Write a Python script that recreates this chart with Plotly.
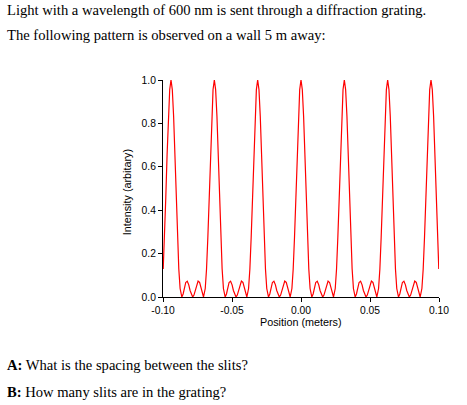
import plotly.graph_objects as go

# principal maxima positions on the wall (m)
peak_centers = [-0.0942, -0.0628, -0.0314, 0.0, 0.0314, 0.0628, 0.0942]

# one half of the repeating profile: offset from a peak (m) and intensity
half_offset = [0.0, 0.00094, 0.00188, 0.00283, 0.00377, 0.00471, 0.00565, 0.00659,
               0.00785, 0.00879, 0.00973, 0.01068, 0.01178, 0.01287, 0.01382, 0.01476, 0.0157]
half_intensity = [1.0, 0.956, 0.834, 0.658, 0.460, 0.274, 0.129, 0.039,
                  0.0, 0.014, 0.043, 0.067, 0.073, 0.056, 0.030, 0.009, 0.0]

x_ticks = [-0.10, -0.05, 0.0, 0.05, 0.10]
x_labels = ['-0.10', '-0.05', '0.00', '0.05', '0.10']
y_ticks = [0.0, 0.2, 0.4, 0.6, 0.8, 1.0]
y_labels = ['0.0', '0.2', '0.4', '0.6', '0.8', '1.0']

# full period = mirrored half profile
offsets = [-d for d in half_offset[:0:-1]] + half_offset
values = half_intensity[:0:-1] + half_intensity

xs, ys = [], []
for c in peak_centers:
    for d, v in zip(offsets, values):
        x = c + d
        if -0.1 <= x <= 0.1 and (not xs or x > xs[-1]):
            xs.append(x)
            ys.append(v)

fig = go.Figure()
fig.add_trace(go.Scatter(x=xs, y=ys, mode='lines', line=dict(color='#ff0000', width=1.2),
                         showlegend=False, hoverinfo='skip'))

tick_font = dict(family='Liberation Sans, Arial, sans-serif', size=10.3, color='black')
title_font = dict(family='Liberation Sans, Arial, sans-serif', size=10.8, color='black')
fig.update_xaxes(range=[-0.1, 0.1], tickvals=x_ticks, ticktext=x_labels,
                 showline=True, linecolor='black', linewidth=1, ticks='outside',
                 ticklen=4, tickcolor='black', showgrid=False, zeroline=False,
                 tickfont=tick_font)
fig.update_yaxes(range=[0, 1.0], tickvals=y_ticks, ticktext=y_labels,
                 showline=True, linecolor='black', linewidth=1, ticks='outside',
                 ticklen=4, tickcolor='black', showgrid=False, zeroline=False,
                 tickfont=tick_font)

serif = dict(family='Liberation Serif, Times New Roman, serif', size=14.6, color='black')
texts = [
    ('Light with a wavelength of 600 nm is sent through a diffraction grating.', 1.323),
    ('The following pattern is observed on a wall 5 m away:', 1.208),
    ('<b>A:</b> What is the spacing between the slits?', -0.315),
    ('<b>B:</b> How many slits are in the grating?', -0.438),
]
for t, yp in texts:
    fig.add_annotation(text=t, x=-0.5736, y=yp, xref='paper', yref='paper',
                       xanchor='left', yanchor='middle', showarrow=False, font=serif)

fig.add_annotation(text='Position (meters)', x=0.5, y=-0.116, xref='paper', yref='paper',
                   xanchor='center', yanchor='middle', showarrow=False, font=title_font)
fig.add_annotation(text='Intensity (arbitary)', x=-0.13, y=0.483, xref='paper', yref='paper',
                   xanchor='center', yanchor='middle', textangle=-90, showarrow=False,
                   font=title_font)

fig.update_layout(width=467, height=405, margin=dict(l=163, r=28, t=80, b=108),
                  plot_bgcolor='white', paper_bgcolor='white')

# page body has a default 8px margin; remove it so the figure sits at the corner
fig.write_html('out.html', config={'displayModeBar': False},
               post_script="document.body.style.margin='0';")
